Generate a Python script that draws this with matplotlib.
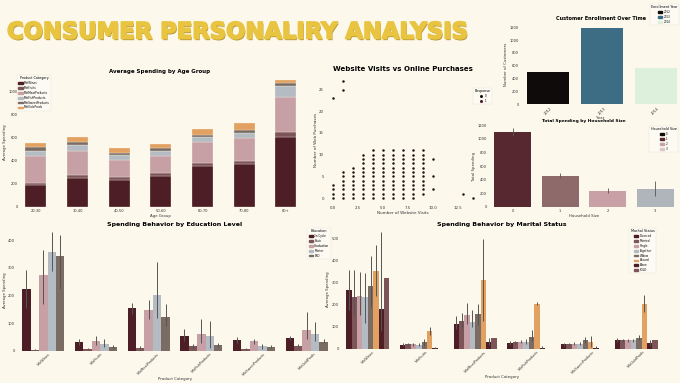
import matplotlib
matplotlib.use("Agg")
import matplotlib.pyplot as plt
import matplotlib.patheffects as pe
from matplotlib.patches import Patch
from matplotlib.lines import Line2D
import numpy as np

# ---- data ----
age_groups = ['20-30', '30-40', '40-50', '50-60', '60-70', '70-80', '80+']
mnt_wines = [195, 250, 233, 273, 355, 375, 605]
mnt_fruits = [17, 29, 26, 24, 26, 26, 49]
mnt_meat = [227, 204, 151, 148, 180, 195, 299]
mnt_fish = [52, 52, 41, 46, 47, 49, 96]
mnt_sweet = [29, 26, 17, 18, 20, 27, 29]
mnt_gold = [38, 44, 44, 40, 49, 55, 30]
product_names = ['MntWines', 'MntFruits', 'MntMeatProducts', 'MntFishProducts',
                 'MntSweetProducts', 'MntGoldProds']

# web visits -> web purchases observed in the scatter
visits_cols = [0, 1, 2, 3, 4, 5, 6, 7, 8, 9, 10, 13, 14]
purchases_cols = [
    [0, 1, 2, 3, 23],
    [0, 1, 2, 3, 4, 5, 6, 25, 27],
    [0, 1, 2, 3, 4, 5, 6, 7],
    [0, 1, 2, 3, 4, 5, 6, 7, 8, 9, 10],
    [0, 1, 2, 3, 4, 5, 6, 7, 8, 9, 10, 11],
    [0, 1, 2, 3, 4, 5, 6, 7, 8, 9, 10, 11],
    [0, 1, 2, 3, 4, 5, 6, 7, 8, 9, 10, 11],
    [0, 1, 2, 3, 4, 5, 6, 7, 8, 9, 10, 11],
    [0, 1, 2, 3, 4, 5, 6, 7, 8, 9, 10, 11],
    [1, 2, 3, 4, 5, 6, 7, 8, 9, 10, 11],
    [2, 5, 9],
    [1],
    [0],
]

years = ['2012', '2013', '2014']
enroll_counts = [494, 1189, 557]

household = ['0', '1', '2', '3']
house_spend = [1093, 459, 234, 263]
house_lo = [1035, 420, 200, 166]
house_hi = [1151, 500, 280, 380]

edu_levels = ['2n Cycle', 'Basic', 'Graduation', 'Master', 'PhD']
edu_means = [
    [224, 31, 154, 55, 40, 46],
    [3, 6, 10, 17, 7, 19],
    [273, 37, 149, 63, 35, 75],
    [359, 26, 204, 55, 17, 63],
    [342, 14, 123, 22, 16, 34],
]
edu_lo = [
    [155, 22, 135, 35, 30, 38],
    [0, 3, 5, 8, 3, 14],
    [170, 22, 115, 30, 25, 45],
    [290, 15, 120, 10, 8, 35],
    [225, 8, 90, 15, 10, 28],
]
edu_hi = [
    [293, 42, 175, 80, 52, 55],
    [8, 10, 17, 27, 12, 24],
    [365, 55, 185, 115, 45, 140],
    [430, 42, 320, 110, 27, 105],
    [420, 22, 170, 30, 22, 42],
]

marital = ['Divorced', 'Married', 'Single', 'Together', 'Widow', 'Absurd', 'Alone', 'YOLO']
mar_means = [
    [267, 18, 115, 27, 21, 39],
    [238, 21, 126, 30, 23, 39],
    [242, 21, 155, 33, 24, 39],
    [238, 18, 124, 33, 24, 39],
    [288, 30, 159, 55, 41, 52],
    [355, 82, 312, 206, 30, 203],
    [182, 3, 33, 5, 6, 27],
    [322, 2, 48, 2, 1, 41],
]
mar_lo = [
    [175, 12, 90, 20, 14, 30],
    [150, 15, 95, 24, 17, 32],
    [155, 14, 115, 25, 18, 31],
    [120, 12, 100, 24, 17, 31],
    [190, 15, 110, 35, 25, 40],
    [240, 65, 125, 200, 10, 170],
    [80, 0, 20, 0, 0, 12],
    [322, 2, 48, 2, 1, 41],
]
mar_hi = [
    [360, 25, 150, 35, 28, 48],
    [358, 27, 165, 37, 29, 46],
    [350, 28, 210, 42, 30, 47],
    [345, 25, 175, 45, 32, 47],
    [420, 45, 205, 85, 55, 65],
    [470, 100, 500, 212, 60, 245],
    [533, 8, 50, 15, 12, 40],
    [322, 2, 48, 2, 1, 41],
]

# ---- style ----
BG = '#fcf8ec'
palette = ['#4d1e25', '#7d5458', '#c7a0a6', '#b4bbc3', '#7a6c63', '#e2a160']
TXT = '#333333'
W, H = 680, 383

plt.rcParams['font.family'] = ['DejaVu Sans']
fig = plt.figure(figsize=(6.8, 3.83), dpi=100, facecolor=BG)


def px_axes(l, t, r, b):
    ax = fig.add_axes([l / W, 1 - b / H, (r - l) / W, (b - t) / H])
    ax.set_facecolor(BG)
    for s in ax.spines.values():
        s.set_visible(False)
    ax.tick_params(length=0, labelsize=2.6, colors=TXT, pad=1.5)
    return ax


def small_legend(ax, handles, labels, title, anchor, loc='upper left'):
    leg = ax.legend(handles, labels, title=title, fontsize=2.0, title_fontsize=2.4,
                    loc=loc, bbox_to_anchor=anchor, bbox_transform=fig.transFigure,
                    frameon=True, handlelength=1.5, handleheight=0.5, borderpad=0.5,
                    labelspacing=0.3, handletextpad=0.6, borderaxespad=0)
    leg.get_frame().set_facecolor('#fdfbf4')
    leg.get_frame().set_edgecolor('#e2ddd0')
    leg.get_frame().set_linewidth(0.3)
    return leg


# ---- title ----
title = fig.text(7 / W, 1 - 32 / H, 'CONSUMER PERSONALIRY ANALYSIS', ha='left', va='center',
                 fontsize=20, fontweight='bold', color='#e8c440',
                 family=['Liberation Sans Narrow', 'DejaVu Sans'])
fig.canvas.draw()
tw = title.get_window_extent().width
title.set_fontsize(20 * 460 / tw)
title.set_path_effects([pe.SimplePatchShadow(offset=(0.8, -1.2), shadow_rgbFace='#b9993a', alpha=1.0),
                        pe.withStroke(linewidth=1.2, foreground='#e8c440')])

# ---- Average spending by age group ----
ax1 = px_axes(20, 77, 300, 207)
x = np.arange(len(age_groups))
bottom = np.zeros(len(age_groups))
for name, vals, col in zip(product_names,
                           [mnt_wines, mnt_fruits, mnt_meat, mnt_fish, mnt_sweet, mnt_gold], palette):
    ax1.bar(x, vals, 0.5, bottom=bottom, color=col, edgecolor='#fcf8ec', linewidth=0.2, label=name)
    bottom += np.array(vals)
ax1.set_xlim(-0.38, 6.34)
ax1.set_ylim(0, 1130)
ax1.set_xticks(x, age_groups)
ax1.set_yticks(range(0, 1001, 200))
ax1.set_title('Average Spending by Age Group', fontsize=4, fontweight='bold', pad=3)
ax1.set_xlabel('Age Group', fontsize=2.8, color=TXT, labelpad=1)
ax1.set_ylabel('Average Spending', fontsize=2.8, color=TXT, labelpad=1)
small_legend(ax1, [Patch(color=c) for c in palette], product_names, 'Product Category',
             (17 / W, 1 - 75 / H))

# ---- scatter ----
ax2 = px_axes(326, 75, 480, 204)
vx, vy = [], []
for v, ps in zip(visits_cols, purchases_cols):
    vx += [v] * len(ps)
    vy += ps
ax2.scatter(vx, vy, s=3.2, color='#1c1212', linewidths=0)
ax2.set_xlim(-0.7, 14.7)
ax2.set_ylim(-1.35, 28.35)
ax2.set_xticks([0, 2.5, 5, 7.5, 10, 12.5])
ax2.set_yticks([0, 5, 10, 15, 20, 25])
ax2.tick_params(labelsize=2.8)
ax2.set_title('Website Visits vs Online Purchases', fontsize=5, fontweight='bold', pad=3)
ax2.set_xlabel('Number of Website Visits', fontsize=3, color=TXT, labelpad=1)
ax2.set_ylabel('Number of Web Purchases', fontsize=3, color=TXT, labelpad=1)
resp_h = [Line2D([], [], ls='', marker='o', ms=1.2, color=c) for c in ['#1c1212', '#4d1e25']]
small_legend(ax2, resp_h, ['0', '1'], 'Response', (473 / W, 1 - 88 / H))

# ---- enrollment ----
ax3 = px_axes(521, 24, 680, 104)
xe = np.arange(len(years))
ecols = ['#0f0b0b', '#3d6d84', '#dcf0dc']
ax3.bar(xe, enroll_counts, 0.78, color=ecols)
ax3.set_xlim(-0.5, 2.45)
ax3.set_ylim(0, 1250)
ax3.set_xticks(xe, years, rotation=45)
ax3.set_yticks(range(0, 1201, 200))
ax3.set_title('Customer Enrollment Over Time', fontsize=3.6, fontweight='bold', pad=3)
ax3.set_xlabel('Year', fontsize=2.8, color=TXT, labelpad=0.5)
ax3.set_ylabel('Number of Customers', fontsize=2.8, color=TXT, labelpad=1)
small_legend(ax3, [Patch(color=c) for c in ecols], years, 'Enrollment Year',
             (679 / W, 1 - 4 / H), loc='upper right')

# ---- household size ----
ax4 = px_axes(489, 125, 679, 207)
xh = np.arange(len(household))
hcols = ['#582830', '#8f6a6b', '#c9a0a6', '#b0b5bc']
ax4.bar(xh, house_spend, 0.78, color=hcols)
ax4.vlines(xh, house_lo, house_hi, color='#555555', lw=0.6)
ax4.set_xlim(-0.5, 3.5)
ax4.set_ylim(0, 1200)
ax4.set_xticks(xh, household)
ax4.set_yticks(range(0, 1201, 200))
ax4.set_title('Total Spending by Household Size', fontsize=3.2, fontweight='bold', pad=2)
ax4.set_xlabel('Household Size', fontsize=2.8, color=TXT, labelpad=1)
ax4.set_ylabel('Total Spending', fontsize=2.8, color=TXT, labelpad=1)
small_legend(ax4, [Patch(color=c) for c in ['#0f0b0b', '#582830', '#c9a0a6', '#d8c8c8']], household,
             'Household Size', (678 / W, 1 - 126 / H), loc='upper right')

# ---- grouped bars helper ----
def grouped(ax, means, lo, hi, colors):
    n = len(means)
    w = 0.8 / n
    xc = np.arange(len(product_names))
    for i in range(n):
        pos = xc - 0.4 + w * (i + 0.5)
        ax.bar(pos, means[i], w, color=colors[i % len(colors)])
        ax.vlines(pos, lo[i], hi[i], color='#555555', lw=0.7)
    ax.set_xticks(xc, product_names, rotation=45)
    ax.tick_params(axis='x', pad=0.8, labelsize=2.4)
    ax.set_xlim(-0.5, 5.5)


ax5 = px_axes(17, 230, 333, 351)
grouped(ax5, edu_means, edu_lo, edu_hi, palette[:5])
ax5.set_ylim(0, 437)
ax5.set_yticks(range(0, 401, 100))
ax5.set_title('Spending Behavior by Education Level', fontsize=4.5, fontweight='bold', pad=3)
ax5.set_xlabel('Product Category', fontsize=2.8, color=TXT, labelpad=0.3)
ax5.set_ylabel('Average Spending', fontsize=2.8, color=TXT, labelpad=1)
small_legend(ax5, [Patch(color=c) for c in palette[:5]], edu_levels, 'Education',
             (331 / W, 1 - 228 / H), loc='upper right')

ax6 = px_axes(341, 230, 663, 349)
mar_cols = palette + palette[:2]
grouped(ax6, mar_means, mar_lo, mar_hi, mar_cols)
ax6.set_ylim(0, 540)
ax6.set_yticks(range(0, 501, 100))
ax6.set_title('Spending Behavior by Marital Status', fontsize=4.5, fontweight='bold', pad=3)
ax6.set_xlabel('Product Category', fontsize=2.8, color=TXT, labelpad=0.3)
ax6.set_ylabel('Average Spending', fontsize=2.8, color=TXT, labelpad=1)
small_legend(ax6, [Patch(color=c) for c in mar_cols], marital, 'Marital Status',
             (656 / W, 1 - 228 / H), loc='upper right')

fig.savefig('out.png', dpi=100, facecolor=BG)
